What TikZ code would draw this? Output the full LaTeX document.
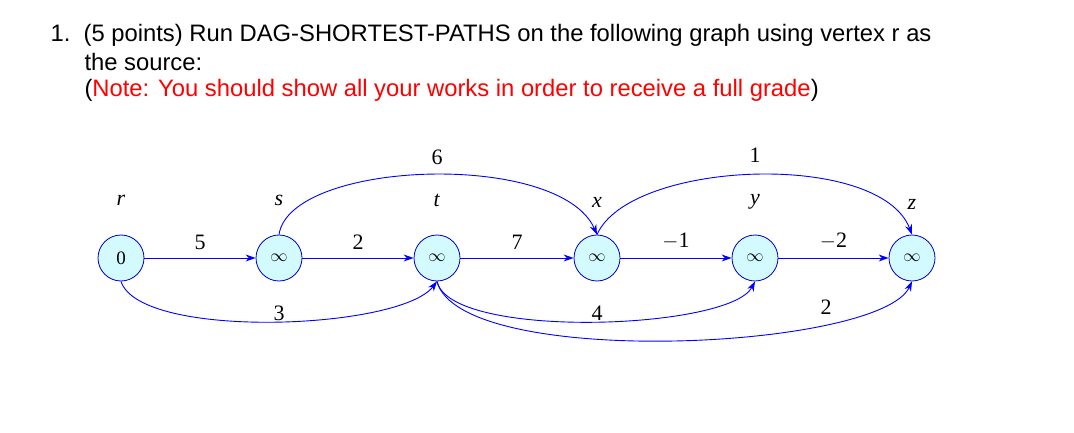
\documentclass[tikz,border=0pt]{standalone}
\usepackage{fontspec}
\setmainfont{Liberation Serif}
\newfontfamily\hdr{Liberation Sans}
\usetikzlibrary{arrows.meta}
\definecolor{vfill}{RGB}{210,250,255}
\begin{document}
\begin{tikzpicture}[x=1pt,y=-1pt,
  vtx/.style={draw=blue!80!black,fill=vfill,circle,minimum size=46pt,inner sep=0pt,font=\fontsize{19}{19}\selectfont,line width=0.8pt},
  edg/.style={draw=blue,line width=0.9pt,-{Stealth[length=10pt,width=7pt]}},
  lab/.style={font=\fontsize{22}{22}\selectfont},
  hd/.style={anchor=west,font=\hdr\fontsize{23.8}{24}\selectfont}]
\useasboundingbox (0,0) rectangle (1074,433);
\node[hd] (l1) at (47,35) {1.\ \ (5 points) Run DAG-SHORTEST-PATHS on the following graph using vertex r as};
\node[hd] (l2) at (81,62) {the source:};
\node[hd] (l3) at (81,90) {(\textcolor{red}{Note: You should show all your works in order to receive a full grade})};
\node[vtx] (r) at (121,258) {0};
\node[vtx] (s) at (279,258) {$\infty$};
\node[vtx] (t) at (437,258) {$\infty$};
\node[vtx] (x) at (597,258) {$\infty$};
\node[vtx] (y) at (755,258) {$\infty$};
\node[vtx] (z) at (912,258) {$\infty$};
\node[lab] (lr) at (121,200) {\textit{r}};
\node[lab] (ls) at (279,200) {\textit{s}};
\node[lab] (lt) at (437,200) {\textit{t}};
\node[lab] (lx) at (597,202) {\textit{x}};
\node[lab] (ly) at (755,202) {\textit{y}};
\node[lab] (lz) at (912,204) {\textit{z}};
\draw[edg] (r) -- (s) node[lab,midway,above=5pt] {5};
\draw[edg] (s) -- (t) node[lab,midway,above=5pt] {2};
\draw[edg] (t) -- (x) node[lab,midway,above=5pt] {7};
\draw[edg] (x) -- (y) node[lab,midway,above=5pt] {$-$1};
\draw[edg] (y) -- (z) node[lab,midway,above=5pt] {$-$2};
\draw[edg] (s.north) .. controls (290,160) and (560,150) .. (x.north);
\node[lab] (w6) at (437,157) {6};
\draw[edg] (x.north) .. controls (630,160) and (880,150) .. (z.north);
\node[lab] (w1) at (755,155) {1};
\draw[edg] (r.south) .. controls (140,340) and (400,330) .. (t.south);
\node[lab] (w3) at (279,313) {3};
\draw[edg] (t.south) .. controls (450,340) and (730,330) .. (y.south);
\node[lab] (w4) at (597,313) {4};
\draw[edg] (t.south) .. controls (460,370) and (880,350) .. (z.south);
\node[lab] (w2) at (826,307) {2};
\end{tikzpicture}
\end{document}
